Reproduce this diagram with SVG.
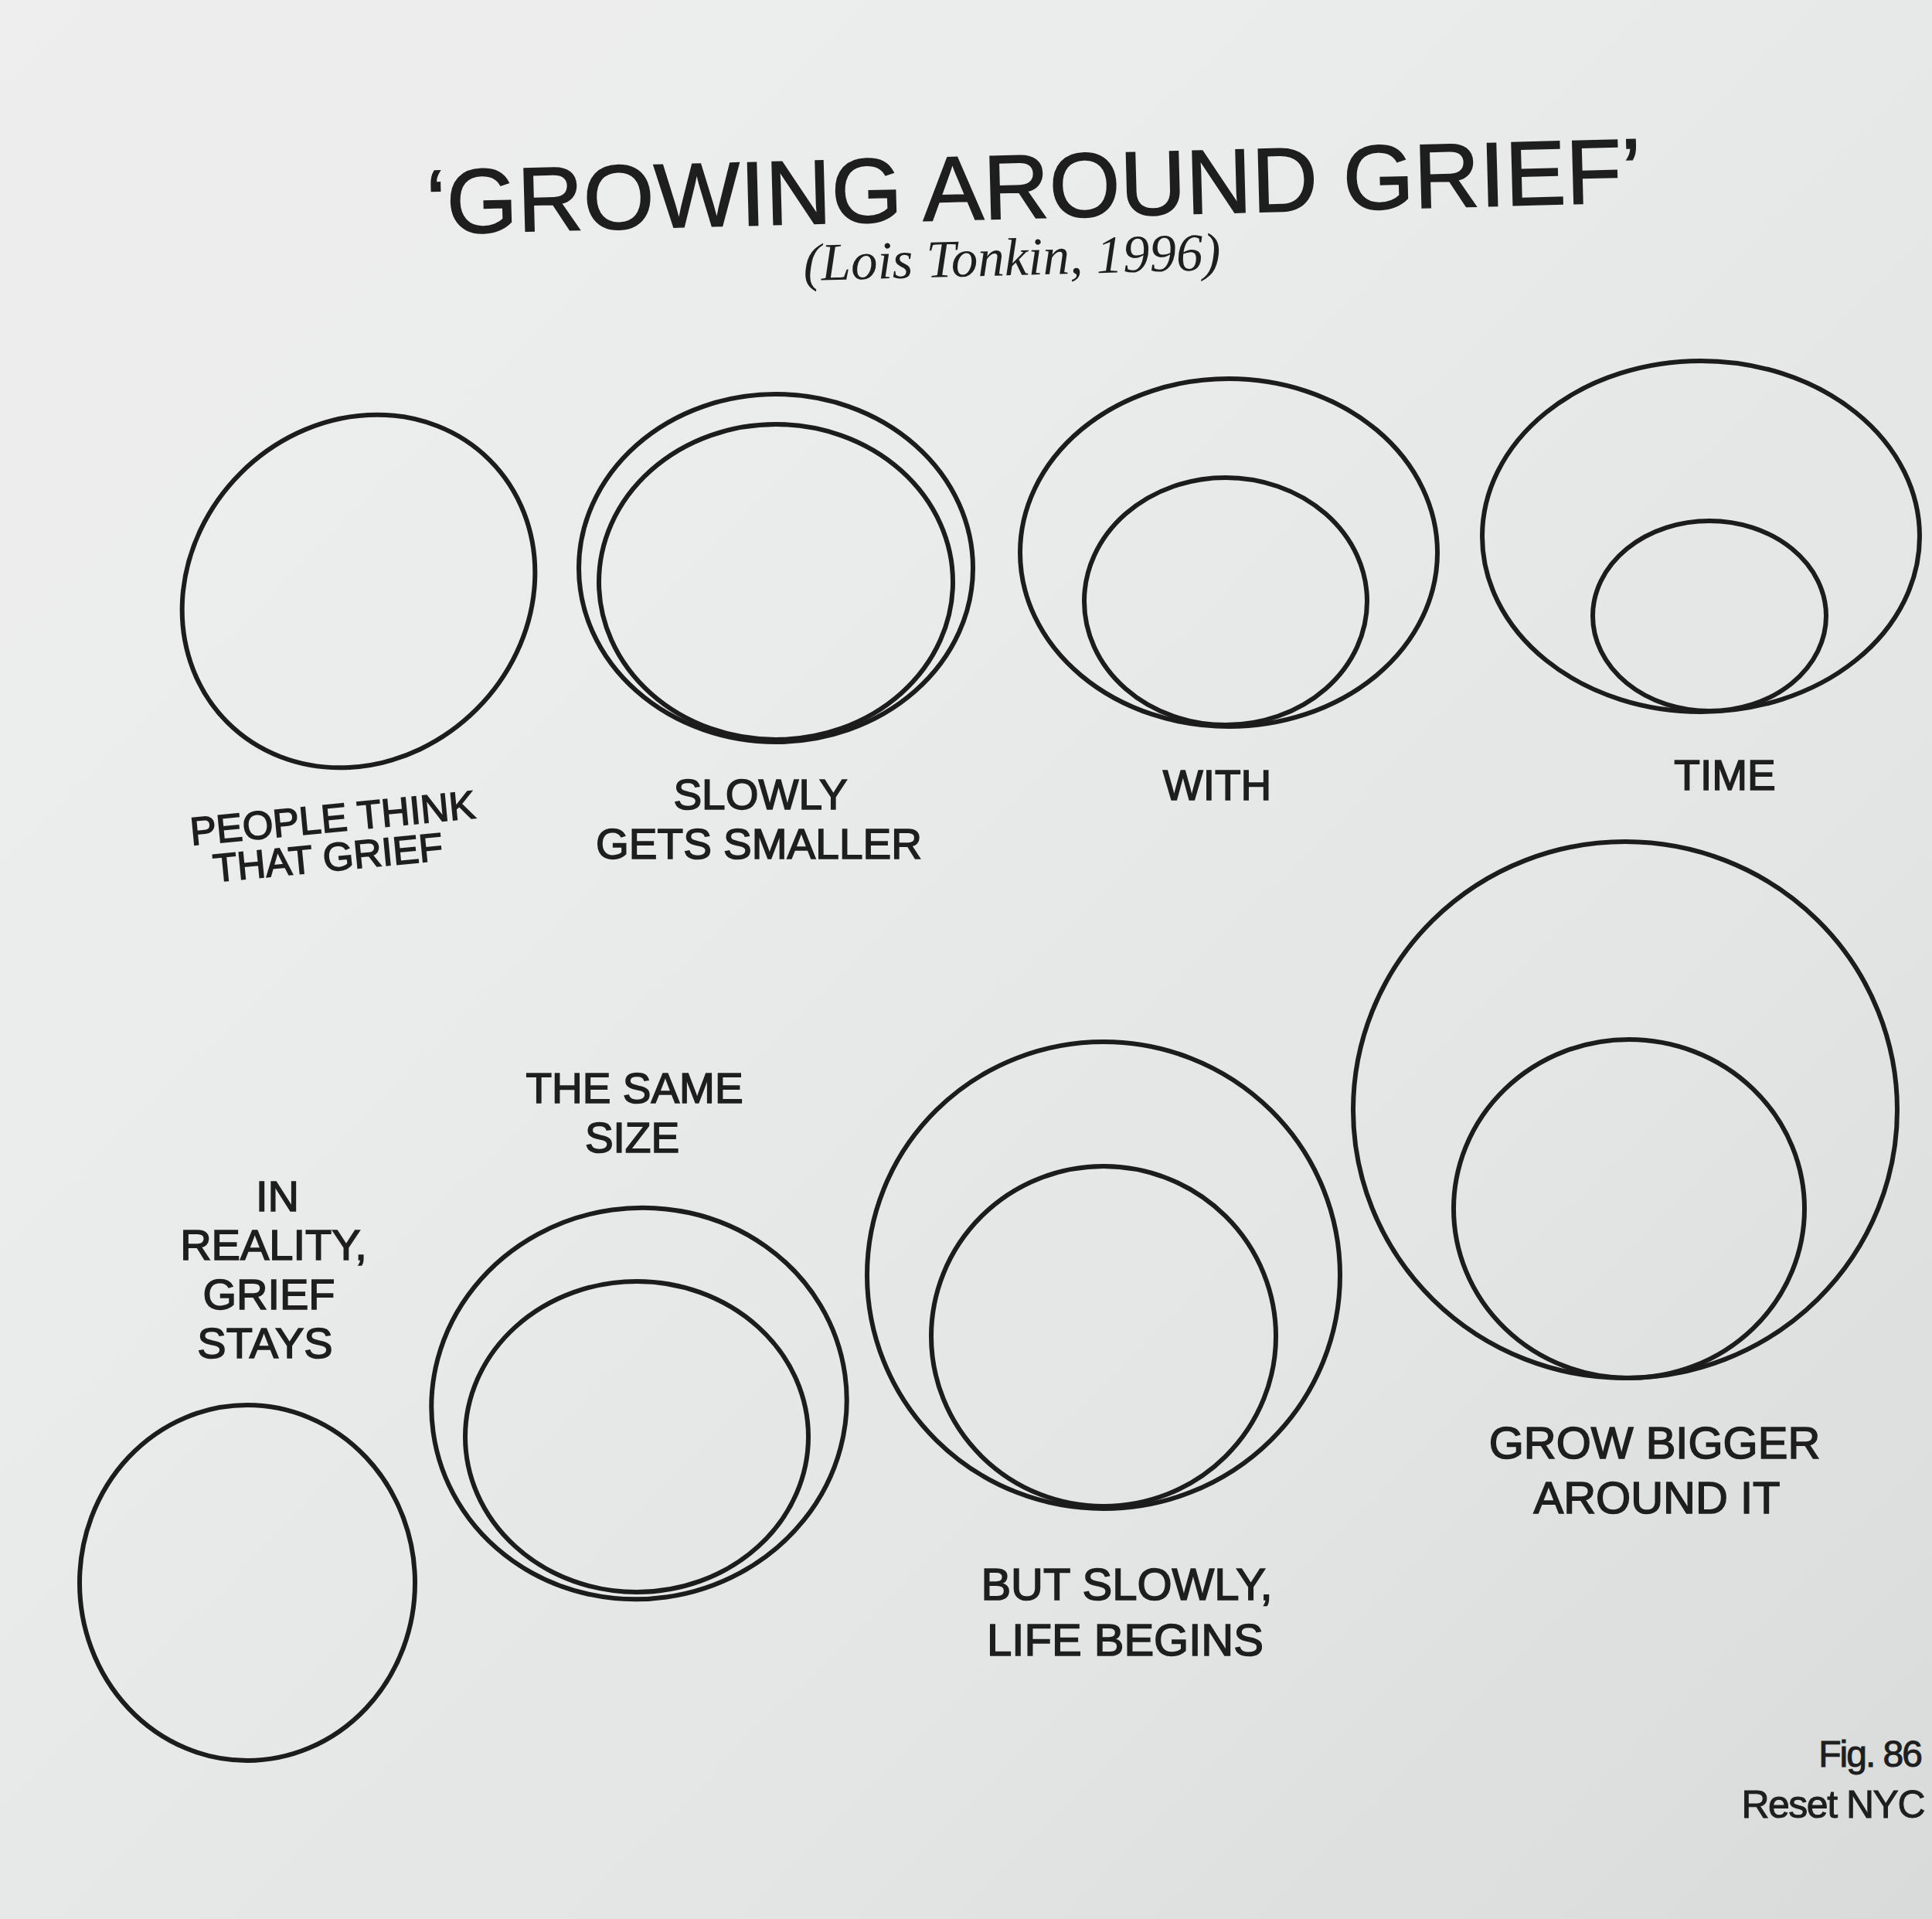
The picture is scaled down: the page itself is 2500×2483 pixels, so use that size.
<svg xmlns="http://www.w3.org/2000/svg" width="2500" height="2483" viewBox="0 0 2500 2483">
<defs>
<linearGradient id="paper" x1="0" y1="0" x2="1" y2="1">
<stop offset="0" stop-color="#eeeeee"/>
<stop offset="0.35" stop-color="#eaebeb"/>
<stop offset="0.7" stop-color="#e3e4e4"/>
<stop offset="1" stop-color="#d9dada"/>
</linearGradient>
<style>
.c{fill:none;stroke:#1c1c1c;stroke-width:6}
.t{font-family:"Liberation Sans",Arial,Helvetica,sans-serif;fill:#1e1e1e;stroke:#1e1e1e;stroke-width:1.6;text-anchor:middle}
.l{font-size:55px}
.b{font-size:58px}
</style>
</defs>
<rect x="0" y="0" width="2500" height="2483" fill="url(#paper)"/>
<g id="title">
<text class="t" x="1339" y="282" font-size="118" stroke-width="3" transform="rotate(-1.5 1339 282)">‘GROWING AROUND GRIEF’</text>
<text x="1310" y="356" font-family="'Liberation Serif','Times New Roman',serif" font-style="italic" font-size="69" fill="#1e1e1e" text-anchor="middle" transform="rotate(-1.5 1310 356)">(Lois Tonkin, 1996)</text>
</g>
<g id="connectors"></g>
<g id="panel-people-think">
<ellipse class="c" cx="464" cy="765" rx="240" ry="216" transform="rotate(-45 464 765)"/>
<text class="t" font-size="51" x="432" y="1076" transform="rotate(-5.5 432 1076)">PEOPLE THINK</text>
<text class="t" font-size="51" x="426" y="1127" transform="rotate(-5.5 426 1127)">THAT GRIEF</text>
</g>
<g id="panel-slowly">
<ellipse class="c" cx="1004" cy="735" rx="255" ry="225"/>
<ellipse class="c" cx="1004" cy="753" rx="229" ry="204"/>
<text class="t l" x="984" y="1047">SLOWLY</text>
<text class="t l" x="982" y="1111">GETS SMALLER</text>
</g>
<g id="panel-with">
<ellipse class="c" cx="1590" cy="715" rx="270" ry="225"/>
<ellipse class="c" cx="1586" cy="778" rx="183" ry="160"/>
<text class="t l" x="1575" y="1035">WITH</text>
</g>
<g id="panel-time">
<ellipse class="c" cx="2201" cy="694" rx="283" ry="227"/>
<ellipse class="c" cx="2212" cy="797" rx="151" ry="123"/>
<text class="t l" x="2232" y="1022">TIME</text>
</g>
<g id="panel-in-reality">
<ellipse class="c" cx="320" cy="2048" rx="217" ry="230"/>
<text class="t" font-size="56" x="359" y="1567">IN</text>
<text class="t" font-size="56" x="354" y="1630">REALITY,</text>
<text class="t" font-size="56" x="348" y="1694">GRIEF</text>
<text class="t" font-size="56" x="343" y="1757">STAYS</text>
</g>
<g id="panel-same-size">
<ellipse class="c" cx="827" cy="1816" rx="269" ry="253" transform="rotate(-8 827 1816)"/>
<ellipse class="c" cx="824" cy="1859" rx="222" ry="201"/>
<text class="t" font-size="55" x="821" y="1427">THE SAME</text>
<text class="t" font-size="55" x="818" y="1491">SIZE</text>
</g>
<g id="panel-life-begins">
<ellipse class="c" cx="1428" cy="1650" rx="306" ry="302"/>
<ellipse class="c" cx="1428" cy="1729" rx="223" ry="220"/>
<text class="t b" x="1458" y="2070">BUT SLOWLY,</text>
<text class="t b" x="1456" y="2142">LIFE BEGINS</text>
</g>
<g id="panel-grow-bigger">
<ellipse class="c" cx="2103" cy="1436" rx="352" ry="347"/>
<ellipse class="c" cx="2108" cy="1564" rx="227" ry="219"/>
<text class="t b" x="2141" y="1887">GROW BIGGER</text>
<text class="t b" x="2144" y="1958">AROUND IT</text>
</g>
<g id="credit">
<text x="2486" y="2286" font-family="'Liberation Sans',Arial,sans-serif" font-size="48" letter-spacing="-2" fill="#1e1e1e" stroke="#1e1e1e" stroke-width="1" text-anchor="end">Fig. 86</text>
<text x="2490" y="2352" font-family="'Liberation Sans',Arial,sans-serif" font-size="50" letter-spacing="-1.5" fill="#1e1e1e" stroke="#1e1e1e" stroke-width="1" text-anchor="end">Reset NYC</text>
</g>
</svg>
